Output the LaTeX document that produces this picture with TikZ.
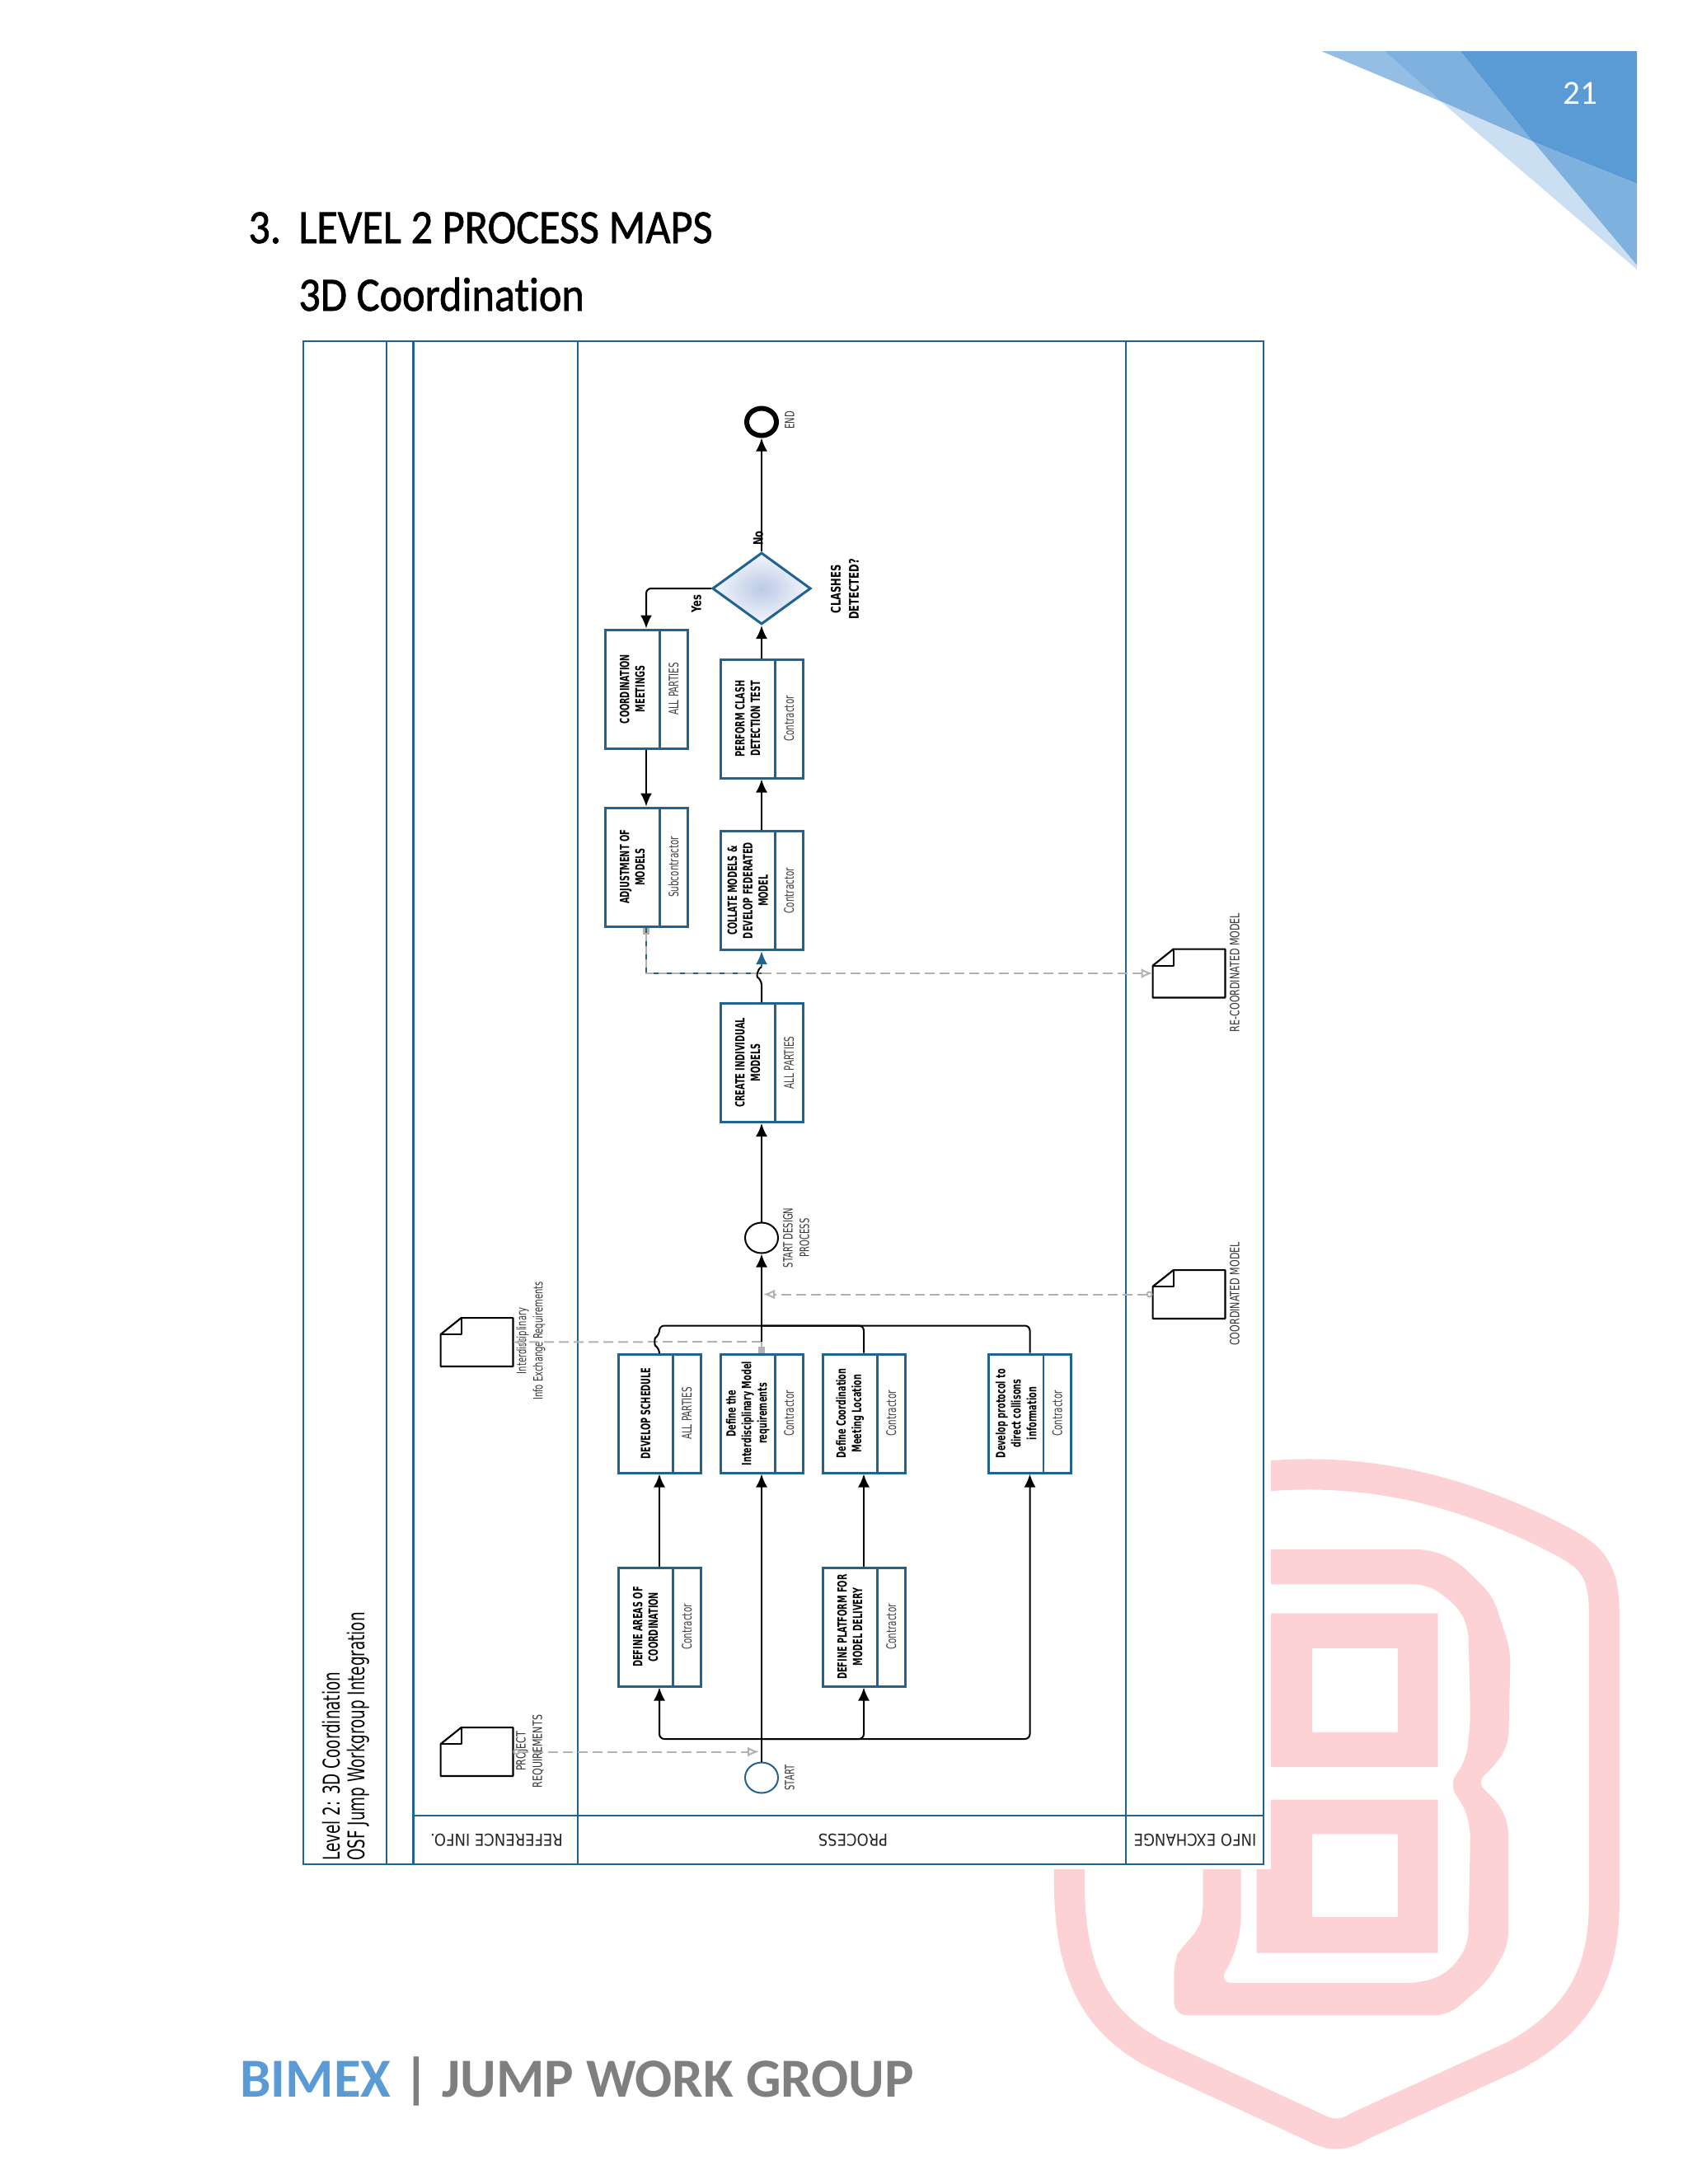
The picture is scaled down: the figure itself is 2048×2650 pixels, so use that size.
\documentclass[tikz,border=0pt]{standalone}
\usepackage{fontspec}
\setmainfont{Carlito}
\newfontfamily\headfont[FakeBold=1.2,FakeStretch=0.9,Ligatures=NoCommon]{Carlito}
\newfontfamily\lanefont[FakeStretch=0.655]{DejaVu Sans}
\newfontfamily\diagfont[FakeStretch=0.63]{DejaVu Sans}
\newfontfamily\sidefont[FakeStretch=0.65]{DejaVu Sans}
\newfontfamily\capsfont[FakeStretch=0.72]{DejaVu Sans}
\newfontfamily\bandfont[FakeStretch=0.9]{DejaVu Sans}
\usetikzlibrary{shapes,arrows.meta,positioning}
\definecolor{lanecolor}{HTML}{1F6391}
\definecolor{logopink}{HTML}{FDD2D4}
\definecolor{bimexblue}{HTML}{5B9BD5}
\definecolor{bimexgray}{HTML}{7F7F7F}
\definecolor{gateblue}{HTML}{BCCAE6}
\definecolor{gateedge}{HTML}{F4F6FB}
\definecolor{overlaydash}{HTML}{2B5F73}
\tikzstyle{laneline} = [draw=lanecolor, line width=1.4pt]
\tikzstyle{taskbox} = [draw=lanecolor, fill=white, line width=1.5pt, rectangle, minimum width=50pt, minimum height=72pt, inner sep=0pt]
\tikzstyle{tasktitle} = [rotate=90, align=center, inner sep=0pt, font=\diagfont\bfseries\fontsize{7.7}{9.4}\selectfont]
\tikzstyle{taskrole} = [rotate=90, align=center, inner sep=0pt, text=black!75, font=\sidefont\fontsize{8}{9.4}\selectfont]
\tikzstyle{sidelabel} = [rotate=90, align=center, inner sep=0pt, text=black!80, font=\sidefont\fontsize{7.7}{10}\selectfont]
\tikzstyle{capslabel} = [rotate=90, align=center, inner sep=0pt, text=black!80, font=\capsfont\fontsize{7.7}{10}\selectfont]
\tikzstyle{decisionlabel} = [rotate=90, align=center, inner sep=0pt, font=\capsfont\bfseries\fontsize{8}{11}\selectfont]
\tikzstyle{bandlabel} = [rotate=180, inner sep=0pt, text=black!85, font=\bandfont\fontsize{10}{12}\selectfont]
\tikzstyle{docbox} = [rectangle, minimum width=43.5pt, minimum height=29pt, inner sep=0pt]
\tikzstyle{docline} = [draw=black, line width=1.1pt, line join=round]
\tikzstyle{eventnode} = [ellipse, minimum width=20pt, minimum height=18.5pt, inner sep=0pt]
\tikzstyle{flow} = [draw=black, line width=1pt, rounded corners=3pt, -{Latex[length=8pt,width=7pt]}]
\tikzstyle{plainflow} = [draw=black, line width=1pt, rounded corners=3pt]
\tikzstyle{infoline} = [draw=black!30, line width=1pt]
\tikzstyle{infoflow} = [infoline, dash pattern=on 6pt off 3pt]
\tikzstyle{opentip} = [-{Latex[open,length=7pt,width=6pt]}]
\newcommand{\taskblock}[4]{%
	\node[taskbox] (#1) at (#2) {};
	\draw[laneline] ([xshift=8.25pt]#1.north) -- ([xshift=8.25pt]#1.south);
	\node[tasktitle] at ([xshift=-8.4pt]#1.center) {#3};
	\node[taskrole] at ([xshift=16.6pt]#1.center) {#4};
}
\newcommand{\docpage}[2]{%
	\node[docbox] (#1) at (#2) {};
	\draw[docline] (#1.south west) -- ([yshift=-10pt]#1.north west) -- ([xshift=12.5pt]#1.north west) -- (#1.north east) -- (#1.south east) -- cycle;
	\draw[docline] ([xshift=12.5pt]#1.north west) -- ([xshift=12.5pt,yshift=-10pt]#1.north west) -- ([yshift=-10pt]#1.north west);
}
\begin{document}
\begin{tikzpicture}[x=0.5pt,y=-0.5pt]
	\useasboundingbox (0,0) rectangle (2048,2650);
	\fill[white] (0,0) rectangle (2048,2650);
	\begin{scope}[shift={(1200,1700)},xscale=0.5408,yscale=0.606]
		\draw[logopink, line width=18.5pt] (600,152) .. controls (850,130) and (1050,180) .. (1240,260) .. controls (1340,305) and (1378,320) .. (1380,420) -- (1380,1000) .. controls (1380,1130) and (1340,1230) .. (1180,1310) -- (830,1452) .. controls (795,1472) and (765,1472) .. (725,1452) -- (380,1310) .. controls (250,1250) and (180,1160) .. (180,960) -- (180,900);
		\fill[logopink, rounded corners=8pt] (600,297) -- (990,297) -- (1050,320) -- (1130,390) -- (1170,500) -- (1165,690) -- (1130,735) -- (1090,765) -- (1130,790) -- (1165,840) -- (1165,1090) -- (1120,1160) -- (1030,1230) -- (415,1230) -- (415,1120) -- (430,1095) -- (470,1060) -- (480,1030) -- (480,900) -- (565,900) -- (565,1060) -- (545,1120) -- (515,1165) -- (970,1165) -- (1030,1145) -- (1075,1090) -- (1080,850) -- (1060,800) -- (1030,770) -- (1070,720) -- (1080,640) -- (1075,450) -- (1050,410) -- (985,367) -- (600,367) -- cycle;
		\fill[logopink, even odd rule] (600,425) rectangle (1007,733) (725,495) rectangle (917,663);
		\fill[logopink, even odd rule] (600,798) rectangle (1007,1105) (725,867) rectangle (917,1033);
	\end{scope}
	\fill[white] (350,400) rectangle (1542,2268);

	\fill[bimexblue!65] (1603,62) -- (1680,62) -- (1748,123) -- cycle;
	\fill[bimexblue!78] (1680,62) -- (1772,62) -- (1860,172) -- (1748,123) -- cycle;
	\fill[bimexblue] (1772,62) -- (1986,62) -- (1986,223) -- (1860,172) -- cycle;
	\fill[bimexblue!78] (1860,172) -- (1986,223) -- (1986,322) -- cycle;
	\fill[bimexblue!32] (1748,123) -- (1860,172) -- (1986,322) -- (1986,327) -- cycle;
	\node[text=white, font=\fontsize{20.5}{24}\selectfont] (pagenum) at (1917,113) {21};

	\node[anchor=base west, inner sep=0pt, font=\headfont\fontsize{29}{33}\selectfont] (sectiontitle) at (301,295) {\makebox[30.5pt][l]{3.}LEVEL 2 PROCESS MAPS};
	\node[anchor=base west, inner sep=0pt, font=\headfont\fontsize{29}{33}\selectfont] (subtitle) at (362,377) {3D Coordination};
	\node[anchor=west, inner sep=0pt, font=\bfseries\fontsize{33.4}{40}\selectfont] (footer) at (291,2525) {\textcolor{bimexblue}{BIMEX} \textcolor{bimexgray}{| JUMP WORK GROUP}};

	\draw[laneline] (368,414) rectangle (1533,2262);
	\draw[laneline] (469,414) -- (469,2262);
	\draw[laneline] (501.5,414) -- (501.5,2262);
	\draw[laneline] (701,414) -- (701,2262);
	\draw[laneline] (1366,414) -- (1366,2262);
	\draw[laneline] (501.5,2203) -- (1533,2203);
	\node[rotate=90, align=left, anchor=west, inner sep=0pt, font=\lanefont\fontsize{14}{15.2}\selectfont] (lanetitle) at (420,2258) {Level 2: 3D Coordination\\OSF Jump Workgroup Integration};
	\node[bandlabel] (refband) at (602.5,2233) {REFERENCE INFO.};
	\node[bandlabel] (procband) at (1035,2233) {PROCESS};
	\node[bandlabel] (infoband) at (1450,2233) {INFO EXCHANGE};

	\taskblock{meetings}{784,836}{COORDINATION\\MEETINGS}{ALL PARTIES}
	\taskblock{adjust}{784,1052}{ADJUSTMENT OF\\MODELS}{Subcontractor}
	\taskblock{clashtest}{924,872}{PERFORM CLASH\\DETECTION TEST}{Contractor}
	\taskblock{collate}{924,1080.6}{COLLATE MODELS \&\\DEVELOP FEDERATED\\MODEL}{Contractor}
	\taskblock{individual}{924,1289.5}{CREATE INDIVIDUAL\\MODELS}{ALL PARTIES}
	\taskblock{schedule}{800,1715}{DEVELOP SCHEDULE}{ALL PARTIES}
	\taskblock{interdisc}{924,1715}{Define the\\Interdisciplinary Model\\requirements}{Contractor}
	\taskblock{location}{1048,1715}{Define Coordination\\Meeting Location}{Contractor}
	\taskblock{protocol}{1249.5,1715}{Develop protocol to\\direct collisons\\information}{Contractor}
	\taskblock{areas}{800,1974}{DEFINE AREAS OF\\COORDINATION}{Contractor}
	\taskblock{platform}{1048,1974}{DEFINE PLATFORM FOR\\MODEL DELIVERY}{Contractor}

	\node[diamond, draw=lanecolor, line width=1.5pt, inner color=gateblue, outer color=gateedge, minimum width=59.7pt, minimum height=43.5pt, aspect=1.37, inner sep=0pt] (clashes) at (924,714) {};
	\node[eventnode, draw=black, line width=3pt, minimum width=18pt, minimum height=16.5pt] (finish) at (924,512) {};
	\node[eventnode, draw=black, line width=1pt] (designstart) at (924,1502) {};
	\node[eventnode, draw=lanecolor, line width=1pt] (begin) at (924,2157) {};

	\node[sidelabel] (finishlabel) at (958,510) {END};
	\node[sidelabel] (designlabel) at (966,1502) {START DESIGN\\PROCESS};
	\node[sidelabel] (beginlabel) at (958,2157) {START};
	\node[decisionlabel] (clasheslabel) at (1025,715) {CLASHES\\DETECTED?};
	\node[decisionlabel] (nolabel) at (920,653) {No};
	\node[decisionlabel] (yeslabel) at (845,733) {Yes};

	\docpage{recoorddoc}{1442.5,1181}
	\docpage{coorddoc}{1442.5,1570.5}
	\docpage{eirdoc}{578.5,1628.5}
	\docpage{projectdoc}{578.5,2125.5}
	\node[capslabel] (recoordlabel) at (1498,1180) {RE-COORDINATED MODEL};
	\node[capslabel] (coordlabel) at (1498,1570) {COORDINATED MODEL};
	\node[sidelabel] (eirlabel) at (644,1627) {Interdisciplinary\\Info Exchange Requirements};
	\node[capslabel] (projectlabel) at (643,2125) {PROJECT\\REQUIREMENTS};

	\coordinate (lowerbus) at (924,2110);
	\coordinate (upperbus) at (924,1608.5);
	\coordinate (eirturn) at (924,1628);
	\coordinate (coordtip) at (926,1570.5);
	\coordinate (projecttip) at (921,2125.5);
	\coordinate (collatejump) at (924,1181);

	\draw[infoline, {Square[length=4pt,width=4pt]}-] (adjust.south) |- (collatejump);
	\draw[draw=overlaydash, line width=1pt, dash pattern=on 3pt off 5pt] (adjust.south) |- (collatejump);
	\draw[infoflow, opentip] (collatejump) -- (recoorddoc.west);
	\draw[infoflow, {Circle[open,length=4pt,width=4pt]}-{Latex[open,length=7pt,width=6pt]}] (coorddoc.west) -- (coordtip);
	\draw[infoline, {Square[length=4pt,width=4pt]}-] (interdisc.north) -- (eirturn);
	\draw[infoflow, opentip] (eirturn) -- (eirdoc.east);
	\draw[infoflow, {Circle[open,length=4pt,width=4pt]}-{Latex[open,length=7pt,width=6pt]}] (projectdoc.east) -- (projecttip);

	\draw[flow] (begin.north) -- (interdisc.south);
	\draw[flow] (lowerbus) -| (areas.south);
	\draw[flow] (lowerbus) -| (platform.south);
	\draw[flow] (lowerbus) -| (protocol.south);
	\draw[flow] (areas.north) -- (schedule.south);
	\draw[flow] (platform.north) -- (location.south);
	\draw[plainflow] (schedule.north) -- (800,1636) .. controls (794,1632) and (794,1624) .. (800,1620) |- (upperbus);
	\draw[plainflow] (eirturn) -- (upperbus);
	\draw[plainflow] (location.north) |- (upperbus);
	\draw[plainflow] (protocol.north) |- (upperbus);
	\draw[flow] (upperbus) -- (designstart.south);
	\draw[flow] (designstart.north) -- (individual.south);
	\draw[plainflow] (individual.north) -- ([yshift=-4pt]collatejump) .. controls ([xshift=-3pt,yshift=-2pt]collatejump) and ([xshift=-3pt,yshift=2pt]collatejump) .. ([yshift=4pt]collatejump);
	\draw[flow, draw=lanecolor, -{Latex[length=8pt,width=7pt,color=lanecolor]}] ([yshift=4pt]collatejump) -- (collate.south);
	\draw[flow] (collate.north) -- (clashtest.south);
	\draw[flow] (clashtest.north) -- (clashes.south);
	\draw[flow] (clashes.north) -- (finish.south);
	\draw[flow] (clashes.west) -| (meetings.north);
	\draw[flow] (meetings.south) -- (adjust.north);
\end{tikzpicture}
\end{document}
